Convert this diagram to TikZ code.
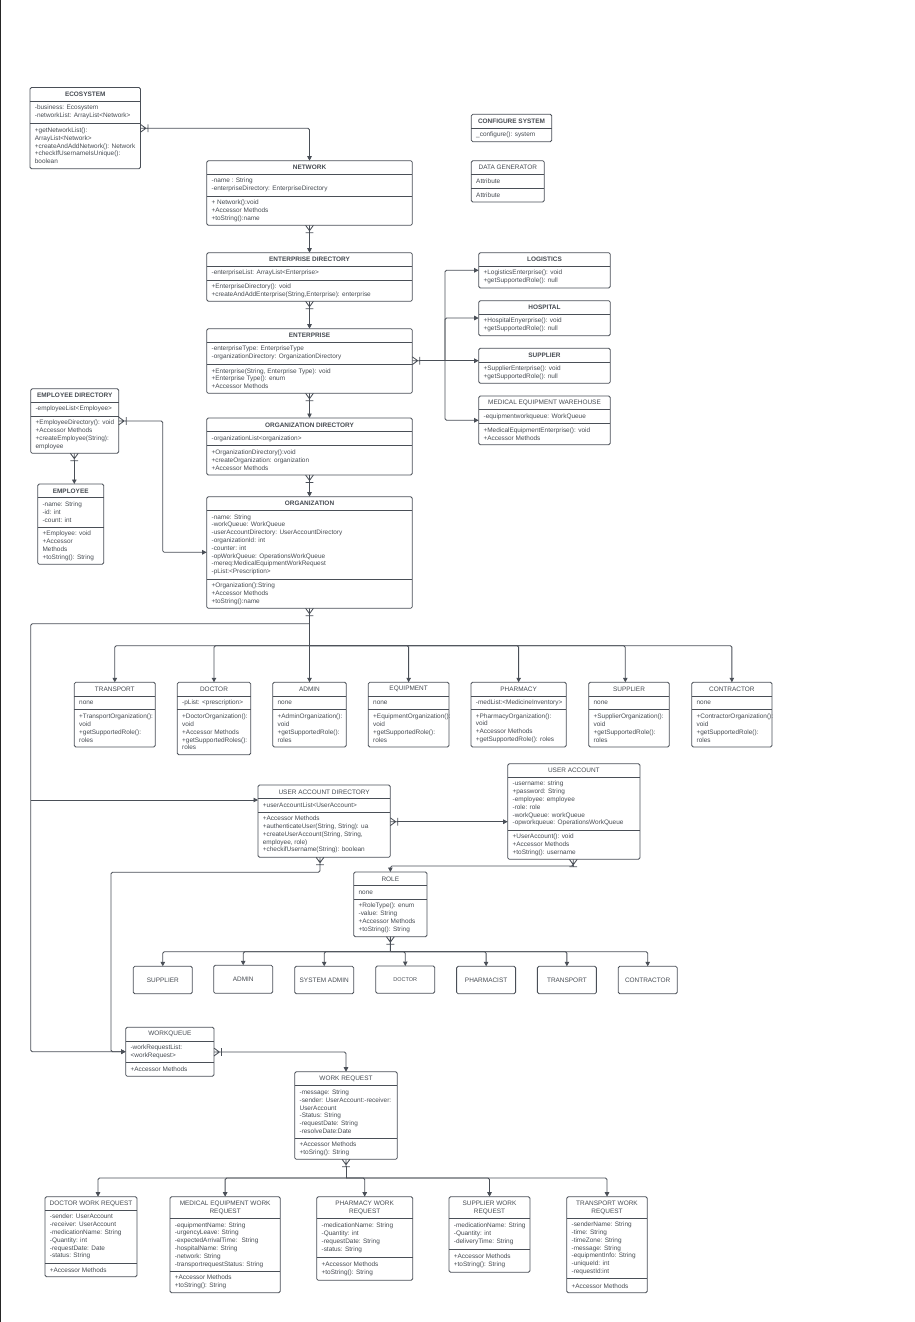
\documentclass[tikz,border=0pt]{standalone}
\usepackage{fontspec}
\setmainfont{Liberation Sans}
\usetikzlibrary{arrows.meta}
\definecolor{ink}{HTML}{454A51}
\definecolor{edge}{HTML}{4A4F57}
\pgfdeclarearrow{
  name=Crow,
  setup code={
    \pgfarrowssettipend{0pt}
    \pgfarrowssetlineend{-7pt}
    \pgfarrowssetvisualbackend{-7pt}
    \pgfarrowssetbackend{-8pt}
  },
  drawing code={
    \pgfsetdash{}{0pt}
    \pgfpathmoveto{\pgfqpoint{0pt}{3.9pt}}
    \pgfpathlineto{\pgfqpoint{-5.4pt}{0pt}}
    \pgfpathlineto{\pgfqpoint{0pt}{-3.9pt}}
    \pgfpathmoveto{\pgfqpoint{-7.5pt}{0pt}}
    \pgfpathlineto{\pgfqpoint{0pt}{0pt}}
    \pgfpathmoveto{\pgfqpoint{-7.5pt}{3.9pt}}
    \pgfpathlineto{\pgfqpoint{-7.5pt}{-3.9pt}}
    \pgfusepathqstroke
  },
  defaults={}
}
\tikzset{
  classbox/.style={draw=edge,line width=.85pt,rounded corners=1.5pt,inner sep=0pt,outer sep=0pt,anchor=north west},
  divider/.style={draw=edge,line width=.85pt},
  titletext/.style={text=ink,font=\fontsize{6.45}{7.8}\selectfont,align=center,inner sep=0pt},
  memtext/.style={text=ink,font=\fontsize{6.45}{7.8}\selectfont,align=left,inner sep=0pt,anchor=west},
  conn/.style={draw=edge,line width=.85pt,rounded corners=1.5pt},
  arrowed/.style={conn,-{Triangle[length=4.5pt,width=4.5pt]}},
  crowarrow/.style={conn,{Crow}-{Triangle[length=4.5pt,width=4.5pt]}},
  crowonly/.style={conn,{Crow}-},
}
\def\parsegeom(#1,#2,#3,#4,#5,#6){\def\gxa{#1}\def\gya{#2}\def\gxb{#3}\def\gyb{#4}\def\gda{#5}\def\gdb{#6}}
\newcommand\cframe[2]{%
  \node[classbox,minimum width={\gxb-\gxa},minimum height={\gyb-\gya}] (#1) at (\gxa,\gya) {};
  \node[titletext] (#1-t) at ({(\gxa+\gxb)/2},{(\gya+\gda)/2}) {#2};
  \draw[divider] (#1.west |- 0,\gda) -- (#1.east |- 0,\gda);
}
\newcommand\cthree[5]{%
  \parsegeom#2
  \cframe{#1}{#3}
  \draw[divider] (#1.west |- 0,\gdb) -- (#1.east |- 0,\gdb);
  \node[memtext] (#1-a) at ({\gxa+4.7},{(\gda+\gdb)/2}) {#4};
  \node[memtext] (#1-o) at ({\gxa+4.7},{(\gdb+\gyb)/2}) {#5};
}
\newcommand\ctwo[4]{%
  \parsegeom#2
  \cframe{#1}{#3}
  \node[memtext] (#1-a) at ({\gxa+4.7},{(\gda+\gyb)/2}) {#4};
}
\newcommand\rolebox[6]{%
  \node[classbox,minimum width={#4-#2},minimum height={#5-#3}] (#1) at (#2,#3) {};
  \node[titletext] (#1-t) at ({(#2+#4)/2},{(#3+#5)/2}) {#6};
}
\begin{document}
\begin{tikzpicture}[x=1pt,y=-1pt]
\useasboundingbox (0,0) rectangle (914,1322);
\coordinate (bartop) at (0.7,0);
\coordinate (barbot) at (0.7,1322);
\draw[line width=1.5pt,black!85] (bartop) -- (barbot);

% top
\cthree{eco}{(30,87.5,140.5,168.7,101.3,123)}{\bfseries ECOSYSTEM}
 {-business: Ecosystem\\-networkList: ArrayList<Network>}
 {+getNetworkList():\\ArrayList<Network>\\+createAndAddNetwork(): Network\\+checkIfUsernameIsUnique():\\boolean}
\cthree{net}{(206.7,160.7,412.3,225.3,174.3,196)}{\bfseries NETWORK}
 {-name : String\\-enterpriseDirectory: EnterpriseDirectory}
 {+ Network():void\\+Accessor Methods\\+toString():name}
\cthree{entdir}{(206.7,252.7,412.3,301.3,266.3,280)}{\bfseries ENTERPRISE DIRECTORY}
 {-enterpriseList: ArrayList<Enterprise>}
 {+EnterpriseDirectory(): void\\+createAndAddEnterprise(String,Enterprise): enterprise}
\cthree{ent}{(206.7,328.7,412.3,393.3,342.3,364)}{\bfseries ENTERPRISE}
 {-enterpriseType: EnterpriseType\\-organizationDirectory: OrganizationDirectory}
 {+Enterprise(String, Enterprise Type): void\\+Enterprise Type(): enum\\+Accessor Methods}
\cthree{orgdir}{(206.7,418,412.3,475,431.7,445.3)}{\bfseries ORGANIZATION DIRECTORY}
 {-organizationList<organization>}
 {+OrganizationDirectory():void\\+createOrganization: organization\\+Accessor Methods}
\cthree{org}{(206.7,496.7,412.3,608.3,510.3,579)}{\bfseries ORGANIZATION}
 {-name: String\\-workQueue: WorkQueue\\-userAccountDirectory: UserAccountDirectory\\-organizationId: int\\-counter: int\\-opWorkQueue: OperationsWorkQueue\\-mereq:MedicalEquipmentWorkRequest\\-pList:<Prescription>}
 {+Organization():String\\+Accessor Methods\\+toString():name}
\cthree{empdir}{(30.7,388.7,118.7,453.3,402.3,416)}{\bfseries EMPLOYEE DIRECTORY}
 {-employeeList<Employee>}
 {+EmployeeDirectory(): void\\+Accessor Methods\\+createEmployee(String):\\employee}
\cthree{emp}{(37.7,484,103.7,564.3,497.7,527)}{\bfseries EMPLOYEE}
 {-name: String\\-id: int\\-count: int}
 {+Employee: void\\+Accessor\\Methods\\+toString(): String}

% right column
\ctwo{config}{(471.3,114.3,551.7,141.7,128,0)}{\bfseries CONFIGURE SYSTEM}{\_configure(): system}
\cthree{datagen}{(471.3,160.7,544.3,202,174.3,188.3)}{DATA GENERATOR}{Attribute}{Attribute}
\ctwo{logi}{(478.7,252.7,610.3,288,266.3,0)}{\bfseries LOGISTICS}{+LogisticsEnterprise(): void\\+getSupportedRole(): null}
\ctwo{hosp}{(478.7,300.7,610.3,335.7,314.3,0)}{\bfseries HOSPITAL}{+HospitalEnyerprise(): void\\+getSupportedRole(): null}
\ctwo{supp}{(478.7,348.3,610.3,383.3,362,0)}{\bfseries SUPPLIER}{+SupplierEnterprise(): void\\+getSupportedRole(): null}
\cthree{medw}{(478.7,396,610.3,444.7,409.7,423.3)}{MEDICAL EQUIPMENT WAREHOUSE}
 {-equipmentworkqueue: WorkQueue}
 {+MedicalEquipmentEnterprise(): void\\+Accessor Methods}

% organisation types
\cthree{otrans}{(74.3,682.3,155.3,747,696,709.3)}{TRANSPORT}{none}
 {+TransportOrganization():\\void\\+getSupportedRole():\\roles}
\cthree{odoc}{(177.3,682.3,250.7,754.7,696,709.3)}{DOCTOR}{-pList: <prescription>}
 {+DoctorOrganization():\\void\\+Accessor Methods\\+getSupportedRoles():\\roles}
\cthree{oadm}{(272.7,682.3,346.3,747,696,709.3)}{ADMIN}{none}
 {+AdminOrganization():\\void\\+getSupportedRole():\\roles}
\cthree{oequ}{(368.3,682.3,449,747,696,709.3)}{EQUIPMENT}{none}
 {+EquipmentOrganization():\\void\\+getSupportedRole():\\roles}
\cthree{ophar}{(471,682.3,566.3,747,696,709.3)}{PHARMACY}{-medList:<MedicineInventory>}
 {+PharmacyOrganization():\\void\\+Accessor Methods\\+getSupportedRole(): roles}
\cthree{osup}{(588.7,682.3,669.3,747,696,709.3)}{SUPPLIER}{none}
 {+SupplierOrganization():\\void\\+getSupportedRole():\\roles}
\cthree{ocon}{(691.7,682.3,772,747,696,709.3)}{CONTRACTOR}{none}
 {+ContractorOrganization():\\void\\+getSupportedRole():\\roles}

% accounts
\cthree{uad}{(258,785,390.3,857.3,798.7,812)}{USER ACCOUNT DIRECTORY}
 {+userAccountList<UserAccount>}
 {+Accessor Methods\\+authenticateUser(String, String): ua\\+createUserAccount(String, String,\\employee, role)\\+checkifUsername(String): boolean}
\cthree{ua}{(507.7,763.7,640,859.3,777.3,830.3)}{USER ACCOUNT}
 {-username: string\\+password: String\\-employee: employee\\-role: role\\-workQueue: workQueue\\-opworkqueue: OperationsWorkQueue}
 {+UserAccount(): void\\+Accessor Methods\\+toString(): username}
\cthree{role}{(353.7,872,427,936.7,885.7,899.3)}{ROLE}{none}
 {+RoleType(): enum\\-value: String\\+Accessor Methods\\+toString(): String}

% roles
\rolebox{rsup}{133.3}{966.3}{192.3}{993.7}{SUPPLIER}
\rolebox{radm}{213.7}{965.3}{272.7}{993.3}{ADMIN}
\rolebox{rsys}{294.7}{966.3}{353.7}{993.7}{SYSTEM ADMIN}
\rolebox{rdoc}{375.8}{966}{434.7}{993.3}{\fontsize{5.5}{6.5}\selectfont DOCTOR}
\rolebox{rpha}{456.6}{966.3}{515.6}{993.7}{PHARMACIST}
\rolebox{rtra}{537.4}{966.3}{596.4}{993.7}{TRANSPORT}
\rolebox{rcon}{618.2}{966.3}{677.2}{993.7}{CONTRACTOR}

% work
\cthree{wq}{(125.7,1027.3,214,1076.3,1041.3,1062.3)}{WORKQUEUE}
 {-workRequestList:\\<workRequest>}{+Accessor Methods}
\cthree{wr}{(294.7,1071.7,397.3,1159.3,1085.3,1138)}{WORK REQUEST}
 {-message: String\\-sender: UserAccount:-receiver:\\UserAccount\\-Status: String\\-requestDate: String\\-resolveDate:Date}
 {+Accessor Methods\\+toSring(): String}
\cthree{wdoc}{(45,1196.7,137,1276.7,1210.3,1263.3)}{DOCTOR WORK REQUEST}
 {-sender: UserAccount\\-receiver: UserAccount\\-medicationName: String\\-Quantity: int\\-requestDate: Date\\-status: String}
 {+Accessor Methods}
\cthree{wmed}{(170,1196.7,280.3,1292.7,1218.3,1271.7)}{MEDICAL EQUIPMENT WORK\\REQUEST}
 {-equipmentName: String\\-urgencyLeave: String\\-expectedArrivalTime:~ String\\-hospitalName: String\\-network: String\\-transportrequestStatus: String}
 {+Accessor Methods\\+toString(): String}
\cthree{wpha}{(316.7,1196.7,412.7,1280.3,1218.3,1257.3)}{PHARMACY WORK\\REQUEST}
 {-medicationName: String\\-Quantity: int\\-requestDate: String\\-status: String}
 {+Accessor Methods\\+toString(): String}
\cthree{wsup}{(449,1196.7,530,1272.3,1218.3,1249.3)}{SUPPLIER WORK\\REQUEST}
 {-medicationName: String\\-Quantity: int\\-deliveryTime: String}
 {+Accessor Methods\\+toString(): String}
\cthree{wtra}{(566.7,1196.7,647.3,1292.7,1218.3,1278.7)}{TRANSPORT WORK\\REQUEST}
 {-senderName: String\\-time: String\\-timeZone: String\\-message: String\\-equipmentInfo: String\\-uniqueId: int\\-requestId:int}
 {+Accessor Methods}

% connectors: top chain
\draw[crowarrow] (eco.east |- 0,128.3) -| (net.north);
\draw[crowarrow] (net.south) -- (entdir.north);
\draw[crowarrow] (entdir.south) -- (ent.north);
\draw[crowarrow] (ent.south) -- (orgdir.north);
\draw[crowarrow] (orgdir.south) -- (org.north);
\draw[crowarrow] (empdir.south -| 74.3,0) -- (emp.north -| 74.3,0);
\draw[crowarrow] (empdir.east |- 0,421) -- (162.7,421) |- (org.west |- 0,552.3);

% enterprises
\coordinate (enttrunk) at (445,360.7);
\draw[crowonly] (ent.east |- enttrunk) -- (enttrunk);
\draw[arrowed] (enttrunk) |- (logi.west |- 0,270.3);
\draw[arrowed] (enttrunk) |- (hosp.west |- 0,318);
\draw[arrowed] (enttrunk) -- (supp.west |- enttrunk);
\draw[arrowed] (enttrunk) |- (medw.west |- 0,420.3);

% organisation types
\coordinate (orgleft) at (309.5,623.7);
\coordinate (orgbus) at (309.5,645.7);
\coordinate (ltop) at (30.7,623.7);
\draw[crowonly] (org.south) -- (orgbus);
\draw[arrowed] (orgbus) -| (otrans.north);
\draw[arrowed] (orgbus) -| (odoc.north);
\draw[arrowed] (orgbus) -- (oadm.north);
\draw[arrowed] (orgbus) -| (oequ.north);
\draw[arrowed] (orgbus) -| (ophar.north);
\draw[arrowed] (orgbus) -| (osup.north -| 625.3,0);
\draw[arrowed] (orgbus) -| (ocon.north);
\draw[arrowed] (orgleft) -- (ltop) |- (wq.west |- 0,1051.7);
\draw[arrowed] (ltop |- 0,800) -- (uad.west |- 0,800);

% accounts
\draw[crowarrow] (uad.east |- 0,821.7) -- (ua.west |- 0,821.7);
\coordinate (uafoot) at (573.3,859.3);
\coordinate (uabend) at (573.3,866);
\draw[crowarrow] (uafoot) -- (uabend) -| (role.north);
\coordinate (uadfoot) at (320,857.3);
\coordinate (uadbend) at (320,872.3);
\coordinate (uadleft) at (111,872.3);
\draw[crowarrow] (uadfoot) -- (uadbend) -- (uadleft) |- (wq.west |- 0,1051.7);

% roles
\coordinate (rolebus) at (390.35,951.7);
\draw[crowonly] (role.south) -- (rolebus);
\draw[arrowed] (rolebus) -| (rsup.north);
\draw[arrowed] (rolebus) -| (radm.north);
\draw[arrowed] (rolebus) -| (rsys.north);
\draw[arrowed] (rolebus) -| (rdoc.north);
\draw[arrowed] (rolebus) -| (rpha.north);
\draw[arrowed] (rolebus) -| (rtra.north);
\draw[arrowed] (rolebus) -| (rcon.north);

% work requests
\draw[crowarrow] (wq.east |- 0,1052) -| (wr.north);
\coordinate (wrbus) at (346,1178);
\draw[crowonly] (wr.south) -- (wrbus);
\draw[arrowed] (wrbus) -| (wdoc.north -| 98,0);
\draw[arrowed] (wrbus) -| (wmed.north);
\draw[arrowed] (wrbus) -| (wpha.north);
\draw[arrowed] (wrbus) -| (wsup.north);
\draw[arrowed] (wrbus) -| (wtra.north);
\end{tikzpicture}
\end{document}
